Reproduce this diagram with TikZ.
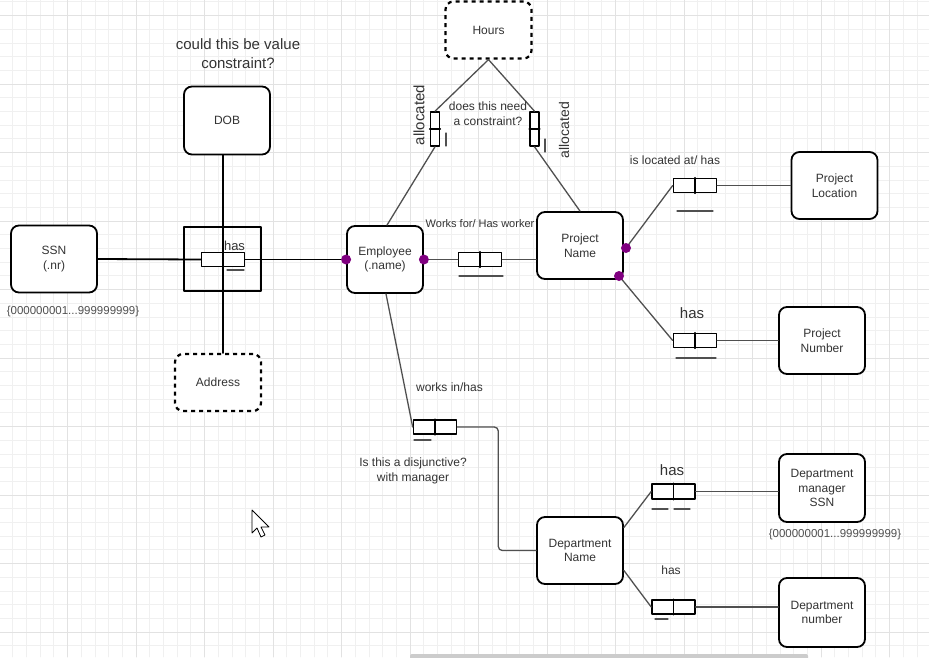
\documentclass[tikz,border=0pt]{standalone}
\usepackage{fontspec}
\setmainfont{Liberation Sans}
\definecolor{txt}{HTML}{333333}
\definecolor{wire}{HTML}{505050}
\definecolor{mand}{HTML}{800080}
\definecolor{gridminor}{HTML}{F0F0F0}
\definecolor{gridmajor}{HTML}{E2E2E2}
\begin{document}
\begin{tikzpicture}[x=1pt, y=-1pt, line join=round, line cap=round,
    ent/.style={draw=black, line width=1.8pt, rounded corners=8pt, fill=white, minimum width=86pt,
      minimum height=67pt, inner sep=0pt, align=center, text=txt, font=\fontsize{12}{14.5}\selectfont},
    valent/.style={ent, line width=2.2pt, line cap=butt, dash pattern=on 4pt off 4pt, minimum height=57pt},
    role/.style={draw=black, line width=1.6pt, fill=white, minimum width=43pt, minimum height=14pt, inner sep=0pt},
    vrole/.style={role, minimum width=9pt, minimum height=34pt},
    conn/.style={draw=wire, line width=1.3pt},
    thickconn/.style={draw=black, line width=1.8pt},
    uc/.style={draw=wire, line width=1.1pt},
    lbl/.style={text=txt, align=center, inner sep=0pt, font=\fontsize{12}{15}\selectfont},
    smalllbl/.style={lbl, font=\fontsize{11}{13}\selectfont},
    biglbl/.style={lbl, font=\fontsize{15}{19}\selectfont},
    rangelbl/.style={lbl, text=wire, font=\fontsize{11.5}{13}\selectfont}]
  % canvas and grid
  \useasboundingbox (0,0) rectangle (929,657);
  \fill[white] (0,0) rectangle (929,657);
  \foreach \k in {0,...,68}
    \draw[gridminor, line width=0.7pt] ({-1+13.7*\k},0) -- ({-1+13.7*\k},657);
  \foreach \k in {0,...,47}
    \draw[gridminor, line width=0.7pt] (0,{1.8+13.7*\k}) -- (929,{1.8+13.7*\k});
  \foreach \k in {0,...,13}
    \draw[gridmajor, line width=0.7pt] ({-1+68.5*\k},0) -- ({-1+68.5*\k},657);
  \foreach \k in {0,...,9}
    \draw[gridmajor, line width=0.7pt] (0,{15.5+68.5*\k}) -- (929,{15.5+68.5*\k});

  % entity and value types
  \node[valent] (hours) at (488.5,30) {Hours};
  \node[ent, minimum height=68pt] (dob) at (227,120.5) {DOB};
  \node[ent] (ssn) at (54,259) {SSN\\(.nr)};
  \node[valent] (addr) at (218,382.5) {Address};
  \node[ent, minimum width=76pt] (emp) at (385,259.5) {Employee\\(.name)};
  \node[ent] (pn) at (580,245.5) {Project\\Name};
  \node[ent] (ploc) at (834.5,185.5) {Project\\Location};
  \node[ent] (pnum) at (822,340.5) {Project\\Number};
  \node[ent] (dn) at (580,550.5) {Department\\Name};
  \node[ent, minimum height=68pt] (dmssn) at (822,488) {Department\\manager\\SSN};
  \node[ent, minimum height=69pt] (dnum) at (822,612.5) {Department\\number};
  \node[draw=black, line width=1.8pt, minimum width=77pt, minimum height=64pt] (nest) at (222.5,259) {};

  % fact type roles
  \node[role] (hasS) at (223,259.5) {};
  \node[role] (wf) at (480,259.5) {};
  \node[role] (loc) at (695,185.5) {};
  \node[role] (pnr) at (695,340.5) {};
  \node[role] (wi) at (435,427) {};
  \node[role, minimum height=15pt] (mgr) at (673.5,491.5) {};
  \node[role] (dnr) at (673.5,607) {};
  \node[vrole] (alL) at (435,129) {};
  \node[vrole] (alR) at (534.5,129) {};

  % connectors
  \draw[thickconn] (hasS.center |- dob.south) -- (hasS.center |- addr.north);
  \draw[thickconn] (ssn.east) -- (hasS.west);
  \draw[thickconn] (hasS.east) -- (emp.west);
  \draw[conn] (emp.east) -- (wf.west);
  \draw[conn] (wf.east) -- (wf.east -| pn.west);
  \draw[conn] (hours.south) -- (alL.north);
  \draw[conn] (alL.south) -- ([xshift=2pt]emp.north);
  \draw[conn] (hours.south) -- (alR.north);
  \draw[conn] (alR.south) -- (pn.north);
  \coordinate (pnA) at (626,248);
  \coordinate (pnB) at (619,276);
  \draw[conn] (pnA) -- (loc.west);
  \draw[conn] (loc.east) -- (loc.east -| ploc.west);
  \draw[conn] (pnB) -- (pnr.west);
  \draw[conn] (pnr.east) -- (pnr.east -| pnum.west);
  \draw[conn] ([xshift=1pt]emp.south) -- (wi.west);
  \draw[conn, rounded corners=4pt] (wi.east) -- ++(41,0) |- (dn.west);
  \draw[conn] ([yshift=23pt]dn.east) -- (mgr.west);
  \draw[conn] ([yshift=-20pt]dn.east) -- (dnr.west);
  \draw[conn] (mgr.east) -- (mgr.east -| dmssn.west);
  \draw[conn] (dnr.east) -- (dnr.east -| dnum.west);

  % role dividers
  \foreach \r in {hasS,wf,loc,pnr,wi,mgr,dnr}
    \draw[black, line width=1.6pt] (\r.north) -- (\r.south);
  \draw[black, line width=1.6pt] (alL.west) -- (alL.east);
  \draw[black, line width=1.6pt] (alR.west) -- (alR.east);

  % mandatory dots
  \fill[mand] (emp.west) circle (5pt);
  \fill[mand] (emp.east) circle (5pt);
  \fill[mand] (pnA) circle (5pt);
  \fill[mand] (pnB) circle (5pt);

  % uniqueness bars
  \draw[uc] (227,270) -- (244,270);
  \draw[uc] (459,276) -- (503,276);
  \draw[uc] (677,211) -- (713,211);
  \draw[uc] (676,358) -- (716,358);
  \draw[uc] (414,440) -- (431,440);
  \draw[uc] (652,509) -- (668,509);
  \draw[uc] (674,509) -- (690,509);
  \draw[uc] (655,619) -- (668,619);
  \draw[uc] (446,133) -- (446,146);
  \draw[uc] (545,139) -- (545,152);

  % labels
  \node[biglbl] (qDOB) at (238,53.5) {could this be value\\constraint?};
  \node[lbl, font=\fontsize{13}{15}\selectfont] (lHasS) at (234.5,246) {has};
  \node[rangelbl] (rSSN) at (73,312) {\{000000001...999999999\}};
  \node[biglbl, rotate=90] (lAlL) at (419,115) {allocated};
  \node[lbl, font=\fontsize{14}{16}\selectfont, rotate=90] (lAlR) at (564,130) {allocated};
  \node[lbl] (qHours) at (488,113.5) {does this need\\a constraint?};
  \node[smalllbl] (lWf) at (480,224) {Works for/ Has worker};
  \node[lbl] (lLoc) at (675,160) {is located at/ has};
  \node[biglbl] (lPnr) at (692,313) {has};
  \node[lbl] (lWi) at (449.5,387) {works in/has};
  \node[lbl] (qWi) at (413,471) {Is this a disjunctive?\\with manager};
  \node[biglbl] (lMgr) at (672,470) {has};
  \node[lbl] (lDnr) at (671,570) {has};
  \node[rangelbl] (rDmssn) at (835,535) {\{000000001...999999999\}};

  % pointer and scroll bar
  \draw[fill=white, line width=0.8pt] (252,510) -- (252,533) -- (257,528) -- (261,537) -- (265,535)
    -- (261,527) -- (269,527) -- cycle;
  \fill[gray!40, rounded corners=2pt] (410,654) rectangle (808,662);
\end{tikzpicture}
\end{document}
